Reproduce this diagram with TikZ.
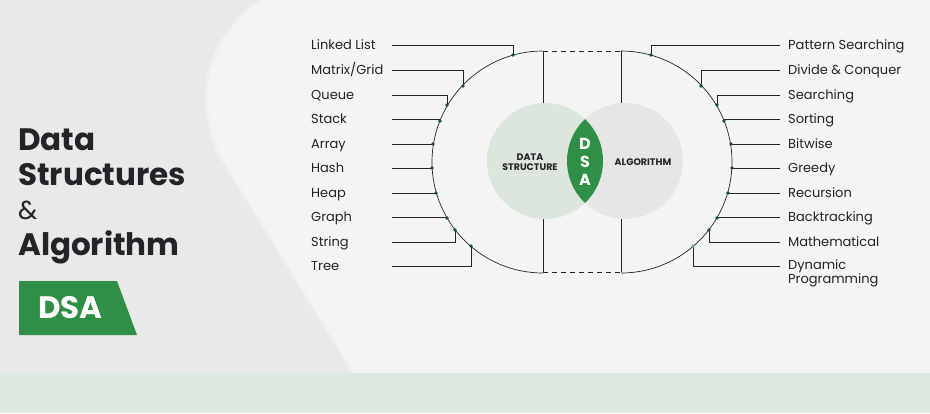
\documentclass[tikz,border=0pt]{standalone}
\usepackage{fontspec}
\setmainfont{Poppins}
\definecolor{bgleft}{HTML}{E9E9E9}
\definecolor{bgpanel}{HTML}{F4F4F4}
\definecolor{bgband}{HTML}{DFE8DF}
\definecolor{dsagreen}{HTML}{2F8F46}
\definecolor{vennleft}{HTML}{DCE6DC}
\definecolor{vennright}{HTML}{E6E6E6}
\definecolor{ink}{HTML}{222428}
\tikzset{
	item/.style={anchor=base west, font=\fontsize{13}{14}\selectfont, text=ink, inner sep=0pt},
	leader/.style={ink, line width=0.7pt},
	pin/.style={fill=ink!80!green, draw=none},
}
\begin{document}
\begin{tikzpicture}[x=1pt,y=-1pt]
	\useasboundingbox (0,0) rectangle (930,413);
	
	\fill[bgleft] (0,0) rectangle (930,413); % background
	\fill[black!6] (258,0) .. controls (205,40) and (193,95) .. (216,152) -- (352,373) -- (930,373) -- (930,0) -- cycle; % shadow
	\fill[bgpanel] (262,0) .. controls (208,40) and (196,95) .. (219,152) -- (355,373) -- (930,373) -- (930,0) -- cycle; % panel
	\fill[bgband] (0,373) rectangle (930,413);
	
	% title
	\node[anchor=base west, inner sep=0pt, text=ink, font=\fontsize{31}{31}\selectfont\bfseries] (tdata) at (18,150) {Data};
	\node[anchor=base west, inner sep=0pt, text=ink, font=\fontsize{31}{31}\selectfont\bfseries] (tstruct) at (18,185) {Structures};
	\node[anchor=base west, inner sep=0pt, text=ink, font=\fontsize{26}{26}\selectfont] (tand) at (18,219) {\&};
	\node[anchor=base west, inner sep=0pt, text=ink, font=\fontsize{31}{31}\selectfont\bfseries] (talgo) at (18,255) {Algorithm};
	\fill[dsagreen] (19,281) -- (117,281) -- (137,335) -- (19,335) -- cycle; % badge
	\node[anchor=base west, inner sep=0pt, white, font=\fontsize{31}{31}\selectfont\bfseries] (badge) at (38,318) {DSA};
	
	% venn
	\fill[vennleft] (545,161) circle (58);
	\fill[vennright] (625,161) circle (58);
	\begin{scope}
		\clip (545,161) circle (58);
		\fill[dsagreen] (625,161) circle (58);
	\end{scope}
	\node[font=\fontsize{9.5}{10.5}\selectfont\bfseries, text=ink, align=center] (ds) at (530,162) {DATA\\STRUCTURE};
	\node[font=\fontsize{9.5}{10.5}\selectfont\bfseries, text=ink] (alg) at (643,162) {ALGORITHM};
	\foreach \ch/\yy/\nm in {D/144/dd, S/162/ds2, A/180/da}
		\node[white, font=\fontsize{16}{16}\selectfont\bfseries] (\nm) at (585,\yy) {\ch};
	
	% half circles
	\coordinate (ltop) at (543,51); \coordinate (lbot) at (543,272);
	\coordinate (rtop) at (621,51); \coordinate (rbot) at (621,272);
	\draw[leader] (ltop) arc (270:90:111);
	\draw[leader] (rtop) arc (-90:90:111);
	\draw[leader, line width=0.5pt, dash pattern=on 5pt off 4pt] (ltop) -- (rtop);
	\draw[leader, line width=0.5pt, dash pattern=on 5pt off 4pt] (lbot) -- (rbot);
	\draw[leader] (ltop) -- (543,103);
	\draw[leader] (543,219) -- (lbot);
	\draw[leader] (rtop) -- (621,103);
	\draw[leader] (621,219) -- (rbot);
	
	% data structures
	\foreach \txt/\yy/\dx/\dy [count=\i] in {Linked List/45/513/55, Matrix\slash Grid/70/463/86, Queue/95/447/105, Stack/119/440/121, Array/144/433/144, Hash/168/432/168, Heap/193/436/193, Graph/217/447/218, String/242/455/230, Tree/266/471/246}{
		\node[item] (ds\i) at (311,\yy+4.5) {\txt};
		\coordinate (dsl\i) at (392,\yy);
		\coordinate (dsp\i) at (\dx,\dy);
		\draw[leader] (dsl\i) -| (dsp\i);
		\fill[pin] (dsp\i) circle (1.9);
	}
	
	% algorithms
	\foreach \txt/\yy/\dx/\dy [count=\i] in {Pattern Searching/45/513/55, Divide \& Conquer/70/463/86, Searching/95/447/105, Sorting/119/440/121, Bitwise/144/433/144, Greedy/168/432/168, Recursion/193/436/193, Backtracking/217/447/218, Mathematical/242/455/230}{
		\node[item] (al\i) at (788,\yy+4.5) {\txt};
		\coordinate (all\i) at (780,\yy);
		\coordinate (alp\i) at (1164-\dx,\dy);
		\draw[leader] (all\i) -| (alp\i);
		\fill[pin] (alp\i) circle (1.9);
	}
	\node[item, anchor=north west, align=left, font=\fontsize{13}{14.5}\selectfont] (dynprog) at (788,259) {Dynamic\\Programming};
	\coordinate (dpl) at (780,266);
	\coordinate (dpp) at (693,246);
	\draw[leader] (dpl) -| (dpp);
	\fill[dsagreen!70] (dpp) circle (1.9);
	
\end{tikzpicture}
\end{document}
